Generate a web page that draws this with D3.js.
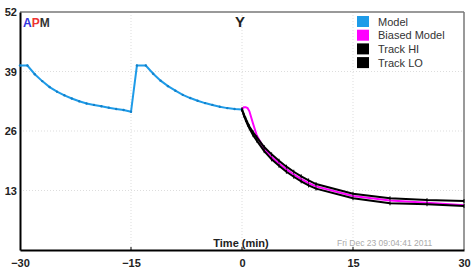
<!DOCTYPE html>
<html lang="en">
<head>
<meta charset="UTF-8" />
<title>Y</title>
<style>
  body { margin: 0; background: #fff; }
  text { font-family: "Liberation Sans", Arial, sans-serif; }
</style>
</head>
<body>
<svg id="svg" width="474" height="278"></svg>
<script src="https://d3js.org/d3.v7.min.js"></script>
<script>
// model history
const modelT = [-30, -29, -28, -27, -26, -25, -24, -23, -22, -21, -20, -19, -18, -17, -16, -15,
                -14.2, -13, -12, -11, -10, -9, -8, -7, -6, -5, -4, -3, -2, -1, 0];
const modelY = [40.3, 40.3, 38.4, 36.9, 35.6, 34.6, 33.8, 33.1, 32.5, 32.0, 31.7, 31.4, 31.1, 30.8, 30.6, 30.2,
                40.3, 40.3, 38.5, 37.0, 35.8, 34.8, 33.9, 33.2, 32.6, 32.1, 31.7, 31.3, 31.0, 30.8, 30.7];

// forecast
const trackT = [0, 0.25, 0.5, 0.75, 1, 1.5, 2, 3, 4, 5, 6, 7, 8, 9, 10, 15, 20, 25, 30];
const trackHi = [30.7, 29.6, 28.7, 27.8, 27.0, 25.7, 24.6, 22.5, 20.9, 19.5, 18.2, 17.1, 16.1, 15.2, 14.4, 12.3, 11.3, 10.9, 10.7];
const trackLo = [30.7, 29.4, 28.4, 27.4, 26.6, 25.1, 23.9, 21.6, 19.8, 18.4, 17.1, 16.0, 15.0, 14.1, 13.4, 11.3, 10.2, 10.0, 9.6];
const biased  = [30.7, 31.2, 31.2, 31.0, 30.3, 27.6, 25.0, 22.1, 20.3, 18.9, 17.6, 16.5, 15.5, 14.6, 13.9, 11.8, 10.8, 10.3, 9.8];

const xTicks = [-30, -15, 0, 15, 30];
const yTicks = [13, 26, 39, 52];
const legendNames = ["Model", "Biased Model", "Track HI", "Track LO"];
const legendColors = ["#1e9be8", "#ff00ff", "#000", "#000"];

const svg = d3.select('#svg');
const pLeft = 20, pRight = 464, pTop = 12, pBottom = 250;

const x = d3.scaleLinear().domain([-30, 30]).range([pLeft, pRight]);
const y = d3.scaleLinear().domain([0, 52]).range([pBottom, pTop]);

// grid
svg.selectAll('.gx').data(xTicks.slice(1, -1)).enter().append('line')
  .attr('x1', d => x(d)).attr('x2', d => x(d)).attr('y1', pTop).attr('y2', pBottom)
  .attr('stroke', '#ddd').attr('stroke-dasharray', '1,2');
svg.selectAll('.gy').data(yTicks.slice(0, -1)).enter().append('line')
  .attr('y1', d => y(d)).attr('y2', d => y(d)).attr('x1', pLeft).attr('x2', pRight)
  .attr('stroke', '#ddd').attr('stroke-dasharray', '1,2');

// frame
svg.append('line').attr('x1', pLeft).attr('x2', pRight).attr('y1', pTop).attr('y2', pTop)
  .attr('stroke', '#777').attr('stroke-width', 1.5);
svg.append('line').attr('x1', pRight).attr('x2', pRight).attr('y1', pTop).attr('y2', pBottom)
  .attr('stroke', '#777').attr('stroke-width', 1.5);

// axes
const xAxis = svg.append('g').attr('transform', `translate(0,${pBottom})`)
  .call(d3.axisBottom(x).tickValues(xTicks).tickSize(0).tickPadding(9));
xAxis.select('.domain').attr('stroke', '#000').attr('stroke-width', 2);
xAxis.selectAll('text').attr('font-size', 11).attr('font-weight', 'bold').attr('fill', '#222')
  .attr('font-family', '"Liberation Sans", Arial, sans-serif');
svg.selectAll('.xt').data(xTicks.slice(1, -1)).enter().append('line')
  .attr('x1', d => x(d)).attr('x2', d => x(d)).attr('y1', pBottom).attr('y2', pBottom - 3)
  .attr('stroke', '#000');

const yAxis = svg.append('g').attr('transform', `translate(${pLeft},0)`)
  .call(d3.axisLeft(y).tickValues(yTicks).tickSize(0).tickPadding(3));
yAxis.select('.domain').attr('stroke', '#000').attr('stroke-width', 2);
yAxis.selectAll('text').attr('font-size', 11).attr('font-weight', 'bold').attr('fill', '#222')
  .attr('font-family', '"Liberation Sans", Arial, sans-serif');

// lines
const line = d3.line().x(d => x(d[0])).y(d => y(d[1]));
const modelPts = modelT.map((t, i) => [t, modelY[i]]);
const hiPts = trackT.map((t, i) => [t, trackHi[i]]);
const loPts = trackT.map((t, i) => [t, trackLo[i]]);
const biasPts = trackT.map((t, i) => [t, biased[i]]);

svg.append('path').datum(modelPts).attr('d', line)
  .attr('fill', 'none').attr('stroke', '#1e9be8').attr('stroke-width', 2);
svg.selectAll('.mp').data(modelPts).enter().append('circle')
  .attr('cx', d => x(d[0])).attr('cy', d => y(d[1])).attr('r', 1.2).attr('fill', '#1380c8');

svg.append('path').datum(biasPts).attr('d', line)
  .attr('fill', 'none').attr('stroke', '#ff00ff').attr('stroke-width', 2);

[hiPts, loPts].forEach(pts => {
  svg.append('path').datum(pts).attr('d', line)
    .attr('fill', 'none').attr('stroke', '#000').attr('stroke-width', 2);
  svg.append('g').selectAll('line').data(pts).enter().append('line')
    .attr('x1', d => x(d[0])).attr('x2', d => x(d[0]))
    .attr('y1', d => y(d[1]) - 2).attr('y2', d => y(d[1]) + 2)
    .attr('stroke', '#000').attr('stroke-width', 1);
});

// legend
const lg = svg.selectAll('.lg').data(legendNames).enter().append('g')
  .attr('transform', (d, i) => `translate(357,${16 + i * 13.7})`);
lg.append('rect').attr('width', 12).attr('height', 11).attr('fill', (d, i) => legendColors[i]);
lg.append('text').attr('x', 21).attr('y', 9.5).attr('font-size', 11).attr('fill', '#333').text(d => d);

// titles
svg.append('text').attr('x', 240).attr('y', 27).attr('text-anchor', 'middle')
  .attr('font-size', 15).attr('font-weight', 'bold').attr('fill', '#222').text('Y');
const apm = svg.append('text').attr('x', 23).attr('y', 27).attr('font-size', 12).attr('font-weight', 'bold');
apm.append('tspan').attr('fill', '#3333dd').text('A');
apm.append('tspan').attr('fill', '#ee3333').text('P');
apm.append('tspan').attr('fill', '#333').text('M');

svg.append('text').attr('x', 241).attr('y', 247).attr('text-anchor', 'middle')
  .attr('font-size', 11).attr('font-weight', 'bold').attr('fill', '#222').text('Time (min)');
svg.append('text').attr('x', 337).attr('y', 246)
  .attr('font-size', 8.5).attr('fill', '#aaa').text('Fri Dec 23 09:04:41 2011');
</script>
</body>
</html>
